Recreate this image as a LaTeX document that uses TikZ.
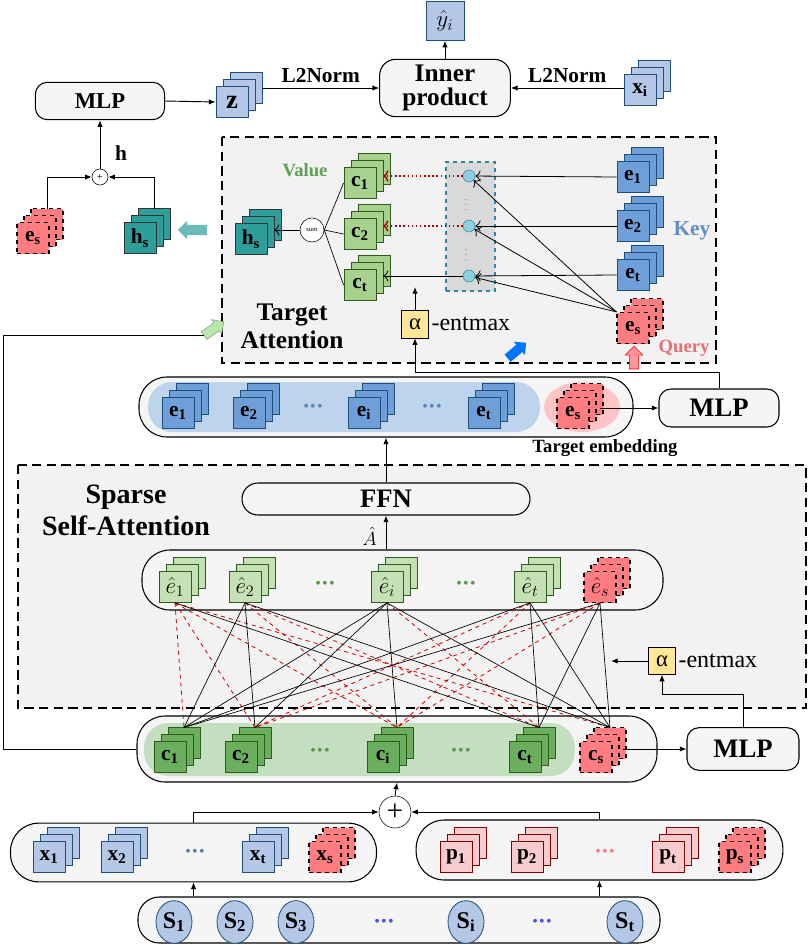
\documentclass[tikz,border=0pt]{standalone}
\usepackage{fontspec}
\setmainfont{Liberation Serif}
\usetikzlibrary{arrows.meta,shapes.arrows,shapes.geometric,calc}
\definecolor{eblue}{HTML}{6F9FD8}
\definecolor{eblueD}{HTML}{1F4E79}
\definecolor{lblue}{HTML}{B4C7E7}
\definecolor{redc}{HTML}{FF7C80}
\definecolor{cgreen}{HTML}{6BAF5E}
\definecolor{cgreenD}{HTML}{2E5A1E}
\definecolor{tgreen}{HTML}{A9D18E}
\definecolor{ehat}{HTML}{C5E0B4}
\definecolor{tealc}{HTML}{2E9E9A}
\definecolor{pinkc}{HTML}{F8CBCE}
\definecolor{alph}{HTML}{FFE699}
\definecolor{dotc}{HTML}{8FD0E0}
\definecolor{colb}{HTML}{31859C}
\tikzset{
 lbl/.style={font=\fontsize{16}{16}\selectfont\bfseries},
 cardbase/.style={line width=0.6pt},
 cE/.style={fill=eblue,draw=eblueD},
 cL/.style={fill=lblue,draw=eblueD},
 cR/.style={fill=redc,draw=black,dashed,line width=0.9pt},
 cG/.style={fill=cgreen,draw=cgreenD},
 cT/.style={fill=tgreen,draw=cgreenD},
 cH/.style={fill=ehat,draw=cgreenD},
 cQ/.style={fill=tealc,draw=black!80},
 cP/.style={fill=pinkc,draw=red!50!black},
 rbox/.style={draw,line width=0.8pt,fill=gray!8,rounded corners=9pt,font=\fontsize{17}{17}\selectfont\bfseries},
 row/.style={draw,line width=0.8pt,fill=gray!8,rounded corners=21pt},
 arr/.style={-{Latex[length=5pt,width=4pt]},line width=0.7pt},
 oarr/.style={-{To[length=4pt]},line width=0.6pt},
 dsh/.style={dashed,line width=1.2pt,dash pattern=on 7pt off 4pt},
 rl/.style={red!80!black,dashed,line width=0.6pt},
 bl/.style={black,line width=0.5pt},
 dotsn/.style={font=\fontsize{12}{12}\selectfont},
}
\newcommand\card[5]{%
 \draw[cardbase,#4] ({#2-16+14},{#3-15.5-14}) rectangle ++(32,31);
 \draw[cardbase,#4] ({#2-16+7},{#3-15.5-7}) rectangle ++(32,31);
 \node[cardbase,#4,minimum width=24pt,minimum height=23.25pt,inner sep=0,lbl] (#1) at (#2,#3) {#5};
 \coordinate (#1t) at ({#2+14},{#3-29.5});}
\newcommand\bc[2]{\textbf{#1}$_{\mathbf{#2}}$}
\newcommand\tdots{\textbullet\hspace{1pt}\textbullet\hspace{1pt}\textbullet}
\begin{document}
\begin{tikzpicture}[x=0.75pt,y=-0.75pt]
\useasboundingbox (0,0) rectangle (808,946);
% ---------- top -------------
\node[draw,cL,line width=0.6pt,minimum width=28.5pt,minimum height=29pt,font=\fontsize{18}{18}\selectfont] (yhat) at (445,21) {$\hat{y}_i$};
\node[rbox,minimum width=98pt,minimum height=43pt,align=center,rounded corners=12pt,font=\fontsize{19}{19}\selectfont\bfseries] (inner) at (445,88) {Inner\\[-1pt]product};
\node[rbox,minimum width=97pt,minimum height=28pt] (mlp1) at (100,101) {MLP};
\card{z}{232}{102}{cL}{\fontsize{20}{20}\selectfont z}
\card{xi}{640}{90}{cL}{\bc{x}{i}}
\draw[arr] (inner.north) -- (yhat.south);
\draw[arr] (mlp1.east) -- (z.west);
\draw[arr] ([xshift=10.5pt]z.east |- inner.west) -- (inner.west) node[midway,above,font=\fontsize{16}{16}\selectfont\bfseries] {L2Norm};
\draw[arr] (xi.west |- inner.east) -- (inner.east) node[midway,above,font=\fontsize{16}{16}\selectfont\bfseries] {L2Norm};
\node[draw,circle,inner sep=0,minimum size=12pt,fill=white,font=\footnotesize] (p1) at (100,177) {+};
\draw[arr] (p1.north) -- (mlp1.south);
\node[font=\fontsize{16}{16}\selectfont\bfseries] (hlab) at (121,153) {h};
\card{esl}{33}{238}{cR}{\bc{e}{s}}
\card{hsl}{140}{238}{cQ}{\bc{h}{s}}
\draw[arr] (eslt) |- (p1.west);
\draw[arr] (hslt) |- (p1.east);
\node[single arrow,fill=tealc!70,draw=none,minimum height=22pt,single arrow head extend=3pt,minimum width=14pt,shape border rotate=180] (cyarr) at (195,230) {};
% ---------- target attention -------------
\draw[dsh,fill=gray!10] (222,137) rectangle (716,363);
\node[fill=gray!30,draw=colb,dashed,line width=1pt,minimum width=36.75pt,minimum height=96.75pt] (col) at (470.5,226.5) {};
\card{hs}{251}{239}{cQ}{\bc{h}{s}}
\node[draw,circle,inner sep=0,minimum size=18pt,fill=white,font=\tiny] (sum) at (312,230) {sum};
\card{c1a}{360}{183}{cT}{\bc{c}{1}}
\card{c2a}{360}{234}{cT}{\bc{c}{2}}
\card{cta}{360}{285}{cT}{\bc{c}{t}}
\node[text=cgreen!90!black,font=\fontsize{14}{14}\selectfont\bfseries] (val) at (305,170) {Value};
\node[draw=colb,fill=dotc,circle,inner sep=0,minimum size=9pt] (d1) at (469,176) {};
\node[draw=colb,fill=dotc,circle,inner sep=0,minimum size=9pt] (d2) at (469,226) {};
\node[draw=colb,fill=dotc,circle,inner sep=0,minimum size=9pt] (d3) at (469,276) {};
\node[text=colb,font=\scriptsize,inner sep=0] (vd1) at (466,201) {$\vdots$};
\node[text=colb,font=\scriptsize,inner sep=0] (vd2) at (466,251) {$\vdots$};
\card{e1a}{633}{177}{cE}{\bc{e}{1}}
\card{e2a}{633}{226}{cE}{\bc{e}{2}}
\card{eta}{633}{275}{cE}{\bc{e}{t}}
\card{esa}{633}{328}{cR}{\bc{e}{s}}
\node[text=eblue!90!black,font=\fontsize{16}{16}\selectfont\bfseries] (key) at (692,231) {Key};
\node[text=redc!90!black,font=\fontsize{14}{14}\selectfont\bfseries] (qry) at (684,348) {Query};
\draw[oarr] (e1a.west) -- (d1);
\draw[oarr] (e2a.west) -- (d2);
\draw[oarr] (eta.west) -- (d3);
\draw[oarr] (esa.north west) -- (d1);
\draw[oarr] (esa.north west) -- (d2);
\draw[oarr] (esa.north west) -- (d3);
\draw[-{To[length=4pt]},red!70!black,dotted,line width=1.1pt] (d1) -- ([xshift=5pt]c1a.east |- d1);
\draw[-{To[length=4pt]},red!70!black,dotted,line width=1.1pt] (d2) -- ([xshift=5pt]c2a.east |- d2);
\draw[oarr] (d3) -- ([xshift=5pt]cta.east |- d3);
\draw[line width=0.5pt] (c1a.west) -- (sum.east) (c2a.west) -- (sum.east) (cta.west) -- (sum.east);
\draw[oarr] (sum.west) -- ([xshift=5pt]hs.east |- sum.west);
\node[draw,fill=alph,minimum width=20pt,minimum height=21pt,inner sep=0,font=\fontsize{17}{17}\selectfont] (al1) at (415,324) {α};
\node[anchor=west,inner sep=2pt,font=\fontsize{18}{18}\selectfont] (ent1) at (al1.east) {-entmax};
\coordinate (atop) at (415,287);
\draw[arr] (al1.north) -- (atop);
\node[align=center,font=\fontsize{19}{21}\selectfont\bfseries] (ta) at (292,326) {Target\\Attention};
\node[single arrow,fill=tgreen!80!green!60,draw=cgreenD!60,minimum height=18pt,single arrow head extend=3pt,minimum width=13pt,rotate=35] (garr) at (212,330) {};
\node[single arrow,fill=blue!55!cyan,draw=none,minimum height=18pt,single arrow head extend=3pt,minimum width=11pt,rotate=40] (barr) at (515,352) {};
\node[single arrow,fill=redc!80,draw=red,minimum height=17pt,single arrow head extend=3pt,minimum width=11pt,rotate=90] (rarr) at (634,360) {};
% ---------- embedding row -------------
\node[row,minimum width=370.5pt,minimum height=45pt] (erow) at (386,407) {};
\node[fill=eblue!45,rounded corners=18pt,minimum width=294pt,minimum height=37.5pt] (ehl) at (344,407) {};
\node[ellipse,fill=redc!45,minimum width=57pt,minimum height=37.5pt] (eell) at (582,407) {};
\card{e1}{178}{413}{cE}{\bc{e}{1}}
\card{e2}{249}{413}{cE}{\bc{e}{2}}
\card{ei}{364}{413}{cE}{\bc{e}{i}}
\card{et}{484}{413}{cE}{\bc{e}{t}}
\card{es}{573}{413}{cR}{\bc{e}{s}}
\node[dotsn,text=eblue!85!black] (ed1) at (313,408) {\tdots};
\node[dotsn,text=eblue!85!black] (ed2) at (432,408) {\tdots};
\node[rbox,minimum width=90pt,minimum height=28.5pt,font=\fontsize{20}{20}\selectfont\bfseries] (mlp2) at (719,408) {MLP};
\draw[arr] ([xshift=8pt]es.east |- mlp2.west) -- (mlp2.west);
\draw[arr] (mlp2.north) -- ++(0,-16) -| (al1.south);
\node[font=\fontsize{14}{14}\selectfont\bfseries] (temb) at (605,448) {Target embedding};
% ---------- sparse self attention -------------
\draw[dsh,fill=gray!10] (18,465) rectangle (806,708);
\node[align=center,font=\fontsize{21}{24}\selectfont\bfseries] (ssa) at (126,510) {Sparse\\Self-Attention};
\node[rbox,minimum width=216pt,minimum height=24pt,rounded corners=12pt,font=\fontsize{20}{20}\selectfont\bfseries] (ffn) at (386,499) {FFN};
\draw[arr] (ffn.north) -- (ffn.north |- erow.south);
\node[row,minimum width=390.75pt,minimum height=45pt] (hrow) at (402.5,580) {};
\draw[arr] (hrow.north -| ffn.south) -- (ffn.south);
\node[anchor=east,inner sep=0pt,font=\fontsize{15}{15}\selectfont] (ahat) at (377,536) {$\hat{A}$};
\card{h1}{175}{587}{cH}{\fontsize{17}{17}\selectfont$\hat{e}_1$}
\card{h2}{245}{587}{cH}{\fontsize{17}{17}\selectfont$\hat{e}_2$}
\card{hi}{387}{587}{cH}{\fontsize{17}{17}\selectfont$\hat{e}_i$}
\card{ht}{530}{587}{cH}{\fontsize{17}{17}\selectfont$\hat{e}_t$}
\card{hs2}{600}{587}{cR}{\fontsize{17}{17}\selectfont$\hat{e}_s$}
\node[dotsn,text=cgreen!85!black] (hd1) at (325,585) {\tdots};
\node[dotsn,text=cgreen!85!black] (hd2) at (466,585) {\tdots};
\node[row,minimum width=390pt,minimum height=49.5pt] (crow) at (397,749) {};
\node[fill=cgreen!40,rounded corners=18pt,minimum width=323pt,minimum height=39.75pt] (chl) at (359.5,749.5) {};
\card{c1}{170}{757}{cG}{\bc{c}{1}}
\card{c2}{241}{757}{cG}{\bc{c}{2}}
\card{ci}{383}{757}{cG}{\bc{c}{i}}
\card{ct}{525}{757}{cG}{\bc{c}{t}}
\card{cs}{596}{757}{cR}{\bc{c}{s}}
\node[dotsn,text=cgreen!85!black] (cd1) at (320,752) {\tdots};
\node[dotsn,text=cgreen!85!black] (cd2) at (461,752) {\tdots};
% connections
\foreach \a/\b in {h1/c1,h1/c2,h1/ci,h1/cs,h2/ci,h2/ct,hi/ct,ht/c2,ht/ci,hs2/c2,hs2/ci}{\draw[rl] (\a.south) -- (\b t);}
\foreach \a/\b in {h1/ct,h2/c1,h2/c2,h2/cs,hi/c1,hi/c2,hi/ci,hi/cs,ht/c1,ht/ct,ht/cs,hs2/c1,hs2/ct,hs2/cs}{\draw[bl] (\a.south) -- (\b t);}
\node[draw,fill=alph,minimum width=20pt,minimum height=20pt,inner sep=0,font=\fontsize{17}{17}\selectfont] (al2) at (662,661) {α};
\node[anchor=west,inner sep=2pt,font=\fontsize{18}{18}\selectfont] (ent2) at (al2.east) {-entmax};
\coordinate (aleft) at (611,661);
\draw[arr] (al2.west) -- (aleft);
\node[rbox,minimum width=84pt,minimum height=32pt,font=\fontsize{20}{20}\selectfont\bfseries] (mlp3) at (743,749) {MLP};
\draw[arr] ([xshift=8pt]cs.east |- mlp3.west) -- (mlp3.west);
\draw[arr] (mlp3.north) -- ++(0,-33) -| (al2.south);
\coordinate (lft) at (3,749);
\draw[line width=0.7pt] (crow.west) -- (lft) |- (garr.tail);
% ---------- bottom -------------
\node[draw,circle,inner sep=0,minimum size=24pt,fill=white,font=\fontsize{22}{22}\selectfont] (p2) at (395,812) {+};
\draw[arr] (p2.north) -- (crow.south);
\node[row,minimum width=274.5pt,minimum height=44pt] (xrow) at (193.5,852.5) {};
\card{x1}{49}{857}{cL}{\bc{x}{1}}
\card{x2}{117}{857}{cL}{\bc{x}{2}}
\card{xt}{258}{857}{cL}{\bc{x}{t}}
\card{xs}{325}{857}{cR}{\bc{x}{s}}
\node[dotsn,text=eblue!80!black] (xd) at (195,853) {\tdots};
\node[row,minimum width=275pt,minimum height=45pt] (prow) at (599.5,850) {};
\card{pp1}{456}{857}{cP}{\bc{p}{1}}
\card{pp2}{527}{857}{cP}{\bc{p}{2}}
\card{ppt}{668}{857}{cP}{\bc{p}{t}}
\card{pps}{735}{857}{cR}{\bc{p}{s}}
\node[dotsn,text=redc] (pd) at (605,853) {\tdots};
\draw[arr] (xrow.north) |- (p2.west);
\draw[arr] (prow.north) |- (p2.east);
\node[row,minimum width=391.5pt,minimum height=34.5pt,rounded corners=16pt] (srow) at (399,920) {};
\draw[arr] (srow.north -| xrow.north) -- (xrow.south);
\draw[arr] (srow.north -| prow.north) -- (prow.south);
\foreach \n/\x/\l in {s1/174/1,s2/235/2,s3/296/3,si/466/i,st/625/t}{
 \node[ellipse,draw=eblueD,fill=lblue,line width=0.6pt,minimum width=27pt,minimum height=32pt,inner sep=0,font=\fontsize{18}{18}\selectfont\bfseries] (\n) at (\x,922) {S$_{\mathbf{\l}}$};}
\node[dotsn,text=blue!70] (sd1) at (384,923) {\tdots};
\node[dotsn,text=blue!70] (sd2) at (542,923) {\tdots};
\end{tikzpicture}
\end{document}
